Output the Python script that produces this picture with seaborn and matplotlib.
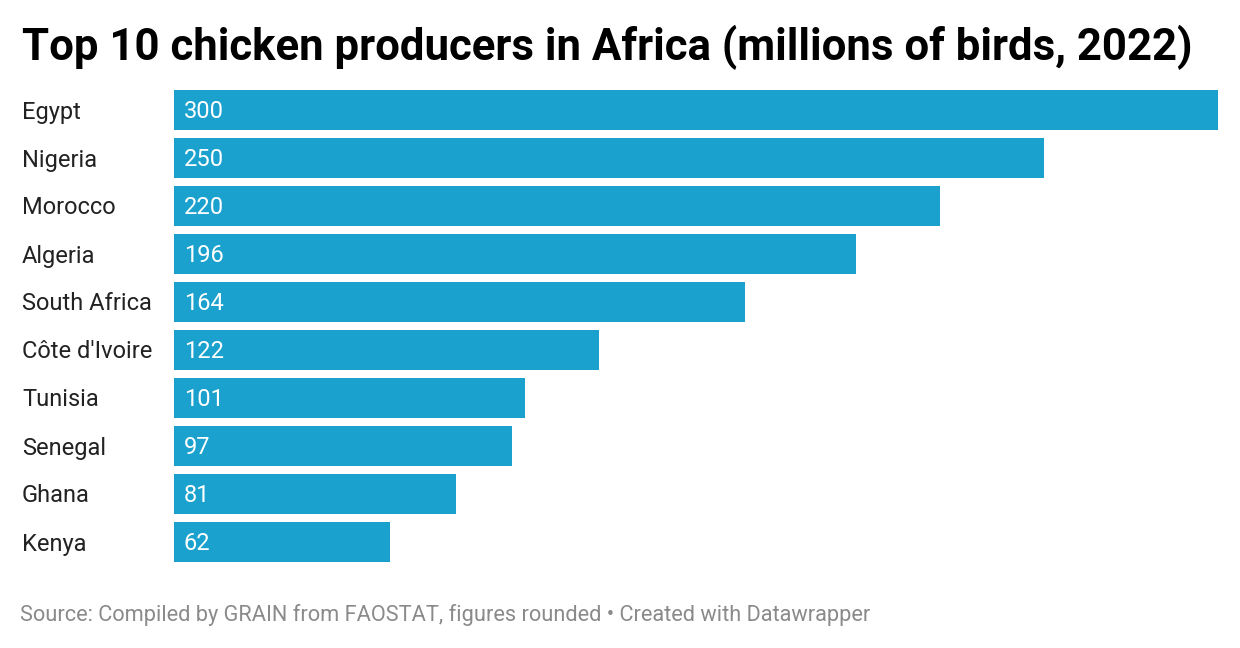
import matplotlib
matplotlib.use('Agg')
import matplotlib.pyplot as plt
import seaborn as sns
import pandas as pd

countries = ['Egypt', 'Nigeria', 'Morocco', 'Algeria', 'South Africa',
             "Côte d'Ivoire", 'Tunisia', 'Senegal', 'Ghana', 'Kenya']
birds = [300, 250, 220, 196, 164, 122, 101, 97, 81, 62]

df = pd.DataFrame({'country': countries, 'birds': birds})

sns.set_style('white')
plt.rcParams['font.family'] = ['Roboto', 'DejaVu Sans']

W, H = 1240, 648
fig = plt.figure(figsize=(W / 100, H / 100), dpi=100)
ax = fig.add_axes([174 / W, 1 - 562 / H, (1218 - 174) / W, (562 - 90) / H])

sns.barplot(data=df, x='birds', y='country', color='#1aa1cd', width=0.833,
            saturation=1, linewidth=0, ax=ax)

ax.set_xlim(0, 300)
ax.set_ylim(9.4167, -0.4167)
ax.set_xticks([])
ax.set_yticks([])
ax.set_xlabel('')
ax.set_ylabel('')
sns.despine(ax=ax, left=True, bottom=True)

for i, (c, v) in enumerate(zip(countries, birds)):
    ax.text(2.8, i + 0.04, str(v), color='white', fontsize=17, va='center', ha='left')
    fig.text(22 / W, 1 - (112 + 48 * i) / H, c, fontsize=17, color='#222222',
             va='center', ha='left')

fig.text(22 / W, 1 - 47 / H, 'Top 10 chicken producers in Africa (millions of birds, 2022)',
         fontsize=31.5, fontweight='bold', color='#000000', va='center', ha='left')
fig.text(20 / W, 1 - 615 / H,
         'Source: Compiled by GRAIN from FAOSTAT, figures rounded • Created with Datawrapper',
         fontsize=15.7, color='#8a8a8a', va='center', ha='left')

fig.savefig('out.png', dpi=100)
